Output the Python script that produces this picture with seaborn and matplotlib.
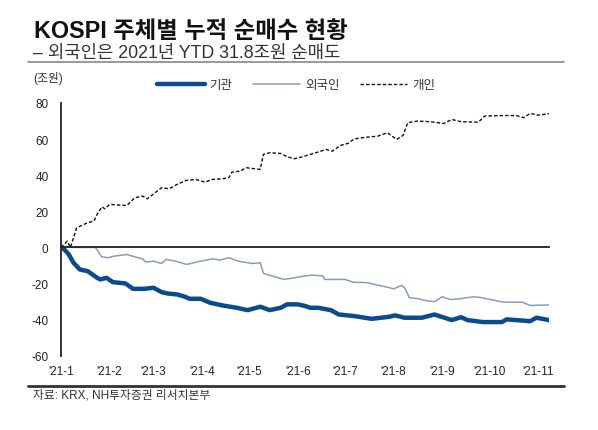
import pandas as pd
import numpy as np
import matplotlib
matplotlib.use("Agg")
import matplotlib.pyplot as plt
import seaborn as sns

# 기관 (institutional) cumulative net buying, trillion won
inst_dates = ["2021-01-01", "2021-01-03", "2021-01-06", "2021-01-09", "2021-01-13", "2021-01-18",
              "2021-01-24", "2021-01-26", "2021-01-30", "2021-02-03", "2021-02-11", "2021-02-16",
              "2021-02-23", "2021-03-01", "2021-03-06", "2021-03-10", "2021-03-16", "2021-03-21",
              "2021-03-24", "2021-03-31", "2021-04-06", "2021-04-14", "2021-04-23", "2021-04-30",
              "2021-05-08", "2021-05-14", "2021-05-21", "2021-05-25", "2021-06-01", "2021-06-06",
              "2021-06-09", "2021-06-14", "2021-06-22", "2021-06-27", "2021-07-07", "2021-07-18",
              "2021-07-29", "2021-08-02", "2021-08-08", "2021-08-19", "2021-08-27", "2021-09-07",
              "2021-09-13", "2021-09-17", "2021-09-27", "2021-10-09", "2021-10-12", "2021-10-27",
              "2021-10-31", "2021-11-08"]
inst_values = [0, -1.0, -3.9, -8.5, -12.2, -13.1,
               -16.8, -17.7, -16.8, -19.2, -19.9, -22.9,
               -22.9, -22.3, -24.7, -25.5, -26.0, -27.3,
               -28.4, -28.4, -30.6, -32.1, -33.4, -34.7,
               -32.8, -34.7, -33.4, -31.5, -31.5, -32.5,
               -33.4, -33.4, -34.7, -37.1, -38.0, -39.5,
               -38.4, -37.6, -38.9, -38.9, -37.1, -40.2,
               -38.6, -40.2, -41.3, -41.3, -39.8, -40.8,
               -38.9, -40.2]

# 외국인 (foreign)
frgn_dates = ["2021-01-01", "2021-01-04", "2021-01-09", "2021-01-23", "2021-01-27", "2021-01-31",
              "2021-02-04", "2021-02-12", "2021-02-17", "2021-02-22", "2021-02-24", "2021-03-01",
              "2021-03-06", "2021-03-09", "2021-03-15", "2021-03-22", "2021-03-31", "2021-04-08",
              "2021-04-12", "2021-04-18", "2021-04-24", "2021-05-03", "2021-05-08", "2021-05-10",
              "2021-05-16", "2021-05-23", "2021-05-30", "2021-06-04", "2021-06-10", "2021-06-17",
              "2021-06-18", "2021-07-01", "2021-07-06", "2021-07-15", "2021-07-20", "2021-07-27",
              "2021-08-01", "2021-08-06", "2021-08-08", "2021-08-11", "2021-08-17", "2021-08-23",
              "2021-08-27", "2021-09-01", "2021-09-06", "2021-09-12", "2021-09-21", "2021-09-26",
              "2021-10-10", "2021-10-22", "2021-10-27", "2021-11-08"]
frgn_values = [0, 0.5, 0, 0, -5.2, -5.7,
               -4.8, -3.9, -5.2, -6.3, -8.1, -7.6,
               -8.9, -6.6, -7.6, -9.4, -7.6, -6.3,
               -7.0, -5.7, -7.6, -8.9, -8.5, -14.4,
               -15.9, -17.7, -16.8, -16.0, -15.3, -15.8,
               -17.7, -17.7, -19.2, -19.5, -20.5, -21.8,
               -22.9, -21.0, -22.3, -27.8, -28.4, -29.7,
               -30.0, -27.3, -28.8, -28.4, -27.3, -27.8,
               -30.3, -30.3, -32.1, -31.8]

# 개인 (individual)
indv_dates = ["2021-01-01", "2021-01-05", "2021-01-07", "2021-01-11", "2021-01-18", "2021-01-22",
              "2021-01-24", "2021-01-27", "2021-01-29", "2021-02-01", "2021-02-12", "2021-02-17",
              "2021-02-22", "2021-02-25", "2021-03-02", "2021-03-06", "2021-03-11", "2021-03-16",
              "2021-03-22", "2021-03-28", "2021-04-03", "2021-04-07", "2021-04-14", "2021-04-18",
              "2021-04-20", "2021-04-25", "2021-04-29", "2021-05-08", "2021-05-10", "2021-05-14",
              "2021-05-21", "2021-05-25", "2021-05-30", "2021-06-04", "2021-06-09", "2021-06-19",
              "2021-06-23", "2021-06-28", "2021-07-03", "2021-07-07", "2021-07-15", "2021-07-22",
              "2021-07-28", "2021-07-31", "2021-08-03", "2021-08-07", "2021-08-10", "2021-08-16",
              "2021-08-24", "2021-09-02", "2021-09-07", "2021-09-13", "2021-09-24", "2021-09-28",
              "2021-10-10", "2021-10-18", "2021-10-23", "2021-10-27", "2021-11-01", "2021-11-08"]
indv_values = [0, 3.5, 0, 10.9, 13.7, 14.6,
               18.3, 22.5, 21.4, 23.8, 23.2, 27.5,
               28.4, 26.9, 30.3, 33.0, 32.5, 34.9,
               37.1, 37.6, 36.1, 37.6, 38.0, 38.6,
               41.7, 42.2, 44.1, 43.2, 51.5, 52.4,
               52.0, 50.2, 49.1, 50.2, 51.5, 54.2,
               53.3, 56.4, 57.6, 60.1, 61.0, 61.6,
               63.5, 61.6, 59.8, 62.0, 69.0, 69.9,
               69.6, 68.6, 70.8, 69.6, 69.3, 72.7,
               73.0, 73.0, 71.8, 74.2, 73.2, 74.0]

month_ticks = ["2021-01-01", "2021-02-01", "2021-03-01", "2021-04-01", "2021-05-01", "2021-06-01",
               "2021-07-01", "2021-08-01", "2021-09-01", "2021-10-01", "2021-11-01"]
month_labels = ["'21-1", "'21-2", "'21-3", "'21-4", "'21-5", "'21-6",
                "'21-7", "'21-8", "'21-9", "'21-10", "'21-11"]

sns.set_style("white")
plt.rcParams["font.family"] = ["Liberation Sans", "Noto Sans CJK KR", "DejaVu Sans"]
plt.rcParams["axes.unicode_minus"] = False

inst = pd.DataFrame({"date": pd.to_datetime(inst_dates), "value": inst_values})
frgn = pd.DataFrame({"date": pd.to_datetime(frgn_dates), "value": frgn_values})
indv = pd.DataFrame({"date": pd.to_datetime(indv_dates), "value": indv_values})

fig = plt.figure(figsize=(5.98, 4.31), dpi=100)
ax = fig.add_axes([0.102, 0.172, 0.816, 0.587])

sns.lineplot(data=inst, x="date", y="value", ax=ax, color="#0b4a8c", linewidth=3.2, label="기관")
sns.lineplot(data=frgn, x="date", y="value", ax=ax, color="#8a9cbd", linewidth=1.1, label="외국인")
sns.lineplot(data=indv, x="date", y="value", ax=ax, color="#111111", linewidth=1.0,
             linestyle=(0, (2.5, 1.5)), label="개인")

ax.set_ylim(-60, 80)
ax.set_yticks(np.arange(-60, 81, 20))
ax.set_xlim(pd.Timestamp("2021-01-01"), pd.Timestamp("2021-11-08"))
ax.set_xticks(pd.to_datetime(month_ticks))
ax.set_xticklabels(month_labels)
ax.set_xlabel("")
ax.set_ylabel("")

for s in ["top", "right"]:
    ax.spines[s].set_visible(False)
ax.spines["bottom"].set_position(("data", 0))
ax.spines["left"].set_linewidth(1.3)
ax.spines["bottom"].set_linewidth(1.3)
ax.spines["left"].set_color("#222222")
ax.spines["bottom"].set_color("#222222")
ax.tick_params(axis="y", direction="in", length=4, width=1, labelsize=8.5, pad=9, colors="#222222")
ax.tick_params(axis="x", direction="in", length=4, width=1, labelsize=8.5, pad=85, colors="#222222")

ax.get_legend().remove()
h, l = ax.get_legend_handles_labels()
fig.legend(h, l, loc="center", bbox_to_anchor=(0.495, 0.800), ncol=3, frameon=False,
           fontsize=9, handlelength=3.8, handletextpad=0.4, columnspacing=1.6,
           labelcolor="#333333")

fig.text(0.057, 0.928, "KOSPI 주체별 누적 순매수 현황", fontsize=16.8, fontweight="bold",
         va="center", ha="left", color="#111111")
fig.text(0.055, 0.877, "– 외국인은 2021년 YTD 31.8조원 순매도", fontsize=12.8,
         va="center", ha="left", color="#333333")
fig.add_artist(plt.Line2D([0.047, 0.943], [0.854, 0.854], transform=fig.transFigure,
                          color="#888888", linewidth=1.2))
fig.text(0.055, 0.819, "(조원)", fontsize=8.5, va="center", ha="left", color="#333333")
fig.add_artist(plt.Line2D([0.047, 0.943], [0.102, 0.102], transform=fig.transFigure,
                          color="#333333", linewidth=2))
fig.text(0.055, 0.083, "자료: KRX, NH투자증권 리서치본부", fontsize=8.5, va="center", ha="left",
         color="#333333")

fig.savefig("out.png", dpi=100)
